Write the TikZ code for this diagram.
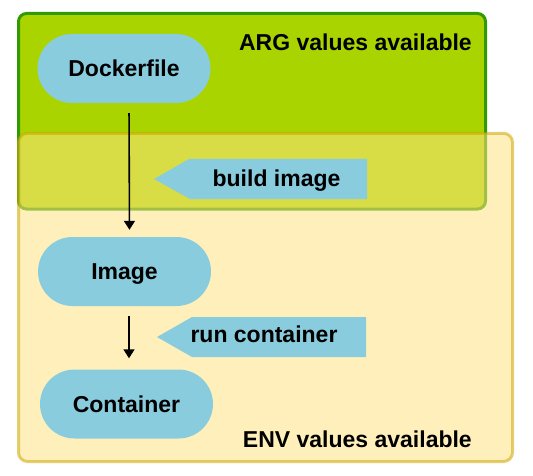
\documentclass[tikz,border=0pt]{standalone}
\usepackage{fontspec}
\setmainfont{Liberation Sans}
\usepackage{tikz}
\usetikzlibrary{arrows.meta}
\usetikzlibrary{shapes.misc}
\definecolor{argfill}{RGB}{170,212,0}
\definecolor{argline}{RGB}{51,153,0}
\definecolor{envfill}{RGB}{255,227,129}
\definecolor{envline}{RGB}{203,166,0}
\definecolor{pillblue}{RGB}{136,204,222}

\begin{document}
\begin{tikzpicture}[x=1pt,y=-1pt,inner sep=0pt,
  font=\fontsize{23}{27}\selectfont\bfseries,
  pill/.style={rounded rectangle, fill=pillblue, minimum width=173pt, minimum height=69pt, text height=16.5pt, text depth=0pt},
  flow/.style={-{Triangle[length=9pt,width=11pt]}, line width=1.6pt, shorten <=10pt}]
\useasboundingbox (0,0) rectangle (533,476);
\draw[argline, fill=argfill, line width=3pt, rounded corners=8pt] (18.5,13.5) rectangle (485.5,209);
\draw[envline, fill=envfill, opacity=.54, line width=3pt, rounded corners=9pt] (18.5,133.3) rectangle (512.5,461.5);
\node[pill] (dock) at (124,68.5) {Dockerfile};
\node[pill] (img) at (124.5,271.5) {Image};
\node[pill] (box) at (126.5,404) {Container};
\fill[pillblue] (154,179)--(189,159)--(367,159)--(367,199)--(190,199)--cycle;
\fill[pillblue] (157,337)--(192,317)--(366,317)--(366,357)--(192,357)--cycle;
\node[anchor=base] (build) at (276.5,186.7) {build image};
\node[anchor=base] (run) at (264,342.3) {run container};
\draw[flow, shorten >=7pt] ([xshift=5pt]dock.south) -- ([xshift=5pt]img.north);
\draw[flow, shorten >=11pt] ([xshift=4.5pt]img.south) -- ([xshift=2.5pt]box.north);
\node[anchor=base east] (arg) at (472,50.7) {ARG values available};
\node[anchor=base east] (env) at (472,447.7) {ENV values available};
\end{tikzpicture}
\end{document}
